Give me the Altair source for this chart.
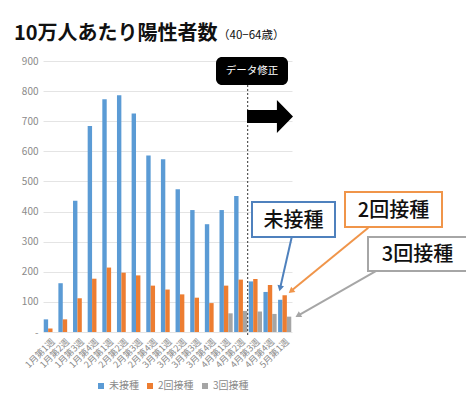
import altair as alt
import pandas as pd

categories = ["1月第1週", "1月第2週", "1月第3週", "1月第4週",
              "2月第1週", "2月第2週", "2月第3週", "2月第4週",
              "3月第1週", "3月第2週", "3月第3週", "3月第4週",
              "4月第1週", "4月第2週", "4月第3週", "4月第4週", "5月第1週"]
series_names = ["未接種", "2回接種", "3回接種"]
unvaccinated = [42, 162, 436, 684, 773, 786, 726, 586, 574, 474, 405, 358, 405, 452, 168, 133, 107]
two_doses = [12, 42, 112, 177, 214, 197, 188, 154, 141, 125, 114, 96, 154, 174, 176, 156, 122]
three_doses = [None] * 12 + [62, 70, 68, 60, 51]
y_ticks = [0, 100, 200, 300, 400, 500, 600, 700, 800, 900]
colors = ["#5B9BD5", "#ED7D31", "#A5A5A5"]

FONT = "Noto Sans CJK JP"

rows = []
for s, vals in zip(series_names, [unvaccinated, two_doses, three_doses]):
    for c, v in zip(categories, vals):
        if v is not None:
            rows.append({"週": c, "系列": s, "値": v})
df = pd.DataFrame(rows)

W, H = 249, 271

bars = alt.Chart(df).mark_bar().encode(
    x=alt.X("週:N", sort=categories, title=None,
            scale=alt.Scale(paddingInner=0.1, paddingOuter=0.05),
            axis=alt.Axis(labelAngle=-45, ticks=False, domain=False, labelPadding=5,
                          labelFontSize=9, labelColor="#8a8a8a", labelFont=FONT)),
    xOffset=alt.XOffset("系列:N", sort=series_names, scale=alt.Scale(paddingInner=0, paddingOuter=0)),
    y=alt.Y("値:Q", title=None, scale=alt.Scale(domain=[0, 900], nice=False),
            axis=alt.Axis(values=y_ticks, labelExpr="datum.value == 0 ? '-' : datum.label",
                          ticks=False, domain=False, labelPadding=5, labelFontSize=10,
                          labelColor="#8a8a8a", labelFont=FONT, gridColor="#e4e4e4")),
    color=alt.Color("系列:N", sort=series_names,
                    scale=alt.Scale(domain=series_names, range=colors),
                    legend=alt.Legend(title=None, orient="none", direction="horizontal",
                                      legendX=53, legendY=320, symbolType="square",
                                      symbolSize=36, labelFontSize=10, labelColor="#8a8a8a",
                                      labelFont=FONT, columnPadding=6, labelOffset=3,
                                      symbolStrokeWidth=0)),
)

one = pd.DataFrame({"a": [0]})
base = alt.Chart(one)

# vertical dotted separator
vline = base.mark_rule(color="#333333", strokeWidth=1, strokeDash=[2, 2]).encode(
    x=alt.value(204.7), y=alt.value(24), y2=alt.value(H + 4))

# "データ修正" label
fix_box = base.mark_rect(color="#000000", cornerRadius=6).encode(
    x=alt.value(173), x2=alt.value(245), y=alt.value(-4), y2=alt.value(24))
fix_text = base.mark_text(color="#ffffff", fontSize=10.5, font=FONT, align="center",
                          baseline="middle").encode(
    x=alt.value(209), y=alt.value(10), text=alt.value("データ修正"))

# big right arrow
big_arrow = base.mark_point(
    shape="M-1,-0.28 L0.3,-0.28 L0.3,-0.72 L1,0 L0.3,0.72 L0.3,0.28 L-1,0.28 Z",
    size=2116, filled=True, color="#000000", opacity=1, strokeWidth=0).encode(
    x=alt.value(227), y=alt.value(55.5))

def callout(x1, x2, y1, y2, label, stroke):
    box = base.mark_rect(fill="#ffffff", stroke=stroke, strokeWidth=2).encode(
        x=alt.value(x1), x2=alt.value(x2), y=alt.value(y1), y2=alt.value(y2))
    txt = base.mark_text(color="#111111", fontSize=20, font=FONT, align="center",
                         baseline="middle", fontWeight=500).encode(
        x=alt.value((x1 + x2) / 2), y=alt.value((y1 + y2) / 2 + 1), text=alt.value(label))
    return [box, txt]

def arrow(xs, ys, hx, hy, ang, col):
    line = base.mark_rule(color=col, strokeWidth=2).encode(
        x=alt.value(xs), y=alt.value(ys), x2=alt.value(hx), y2=alt.value(hy))
    head = base.mark_point(shape="triangle-up", size=45, filled=True, color=col,
                           opacity=1, angle=ang).encode(x=alt.value(hx), y=alt.value(hy))
    return [line, head]

layers = [bars, vline, fix_box, fix_text, big_arrow]
layers += arrow(248.7, 176.3, 237.1, 227.3, 193, "#4F81BD")
layers += arrow(325.3, 166.7, 248.0, 230.1, 231, "#F0954A")
layers += arrow(333.7, 209.7, 255.0, 254.6, 240, "#A6A6A6")
layers += callout(209, 292, 141, 176, "未接種", "#4F81BD")
layers += callout(302, 399, 131, 166, "2回接種", "#F0954A")
layers += callout(325, 424, 176, 210, "3回接種", "#A6A6A6")

title_main = base.mark_text(fontSize=20, fontWeight="bold", font=FONT, align="left",
                            baseline="alphabetic", color="#111111").encode(
    x=alt.value(-29), y=alt.value(-21), text=alt.value("10万人あたり陽性者数"))
title_sub = base.mark_text(fontSize=11.5, font=FONT, align="left",
                           baseline="alphabetic", color="#111111").encode(
    x=alt.value(175), y=alt.value(-22), text=alt.value("（40−64歳）"))
layers += [title_main, title_sub]

chart = alt.layer(*layers).properties(
    width=W, height=H,
    padding={"left": 35, "top": 53, "right": 174, "bottom": 62},
    autosize=alt.AutoSizeParams(type="none"),
    background="#ffffff",
).configure_view(stroke=None)

chart.save("out.html", embed_options={"renderer": "svg", "actions": False})
